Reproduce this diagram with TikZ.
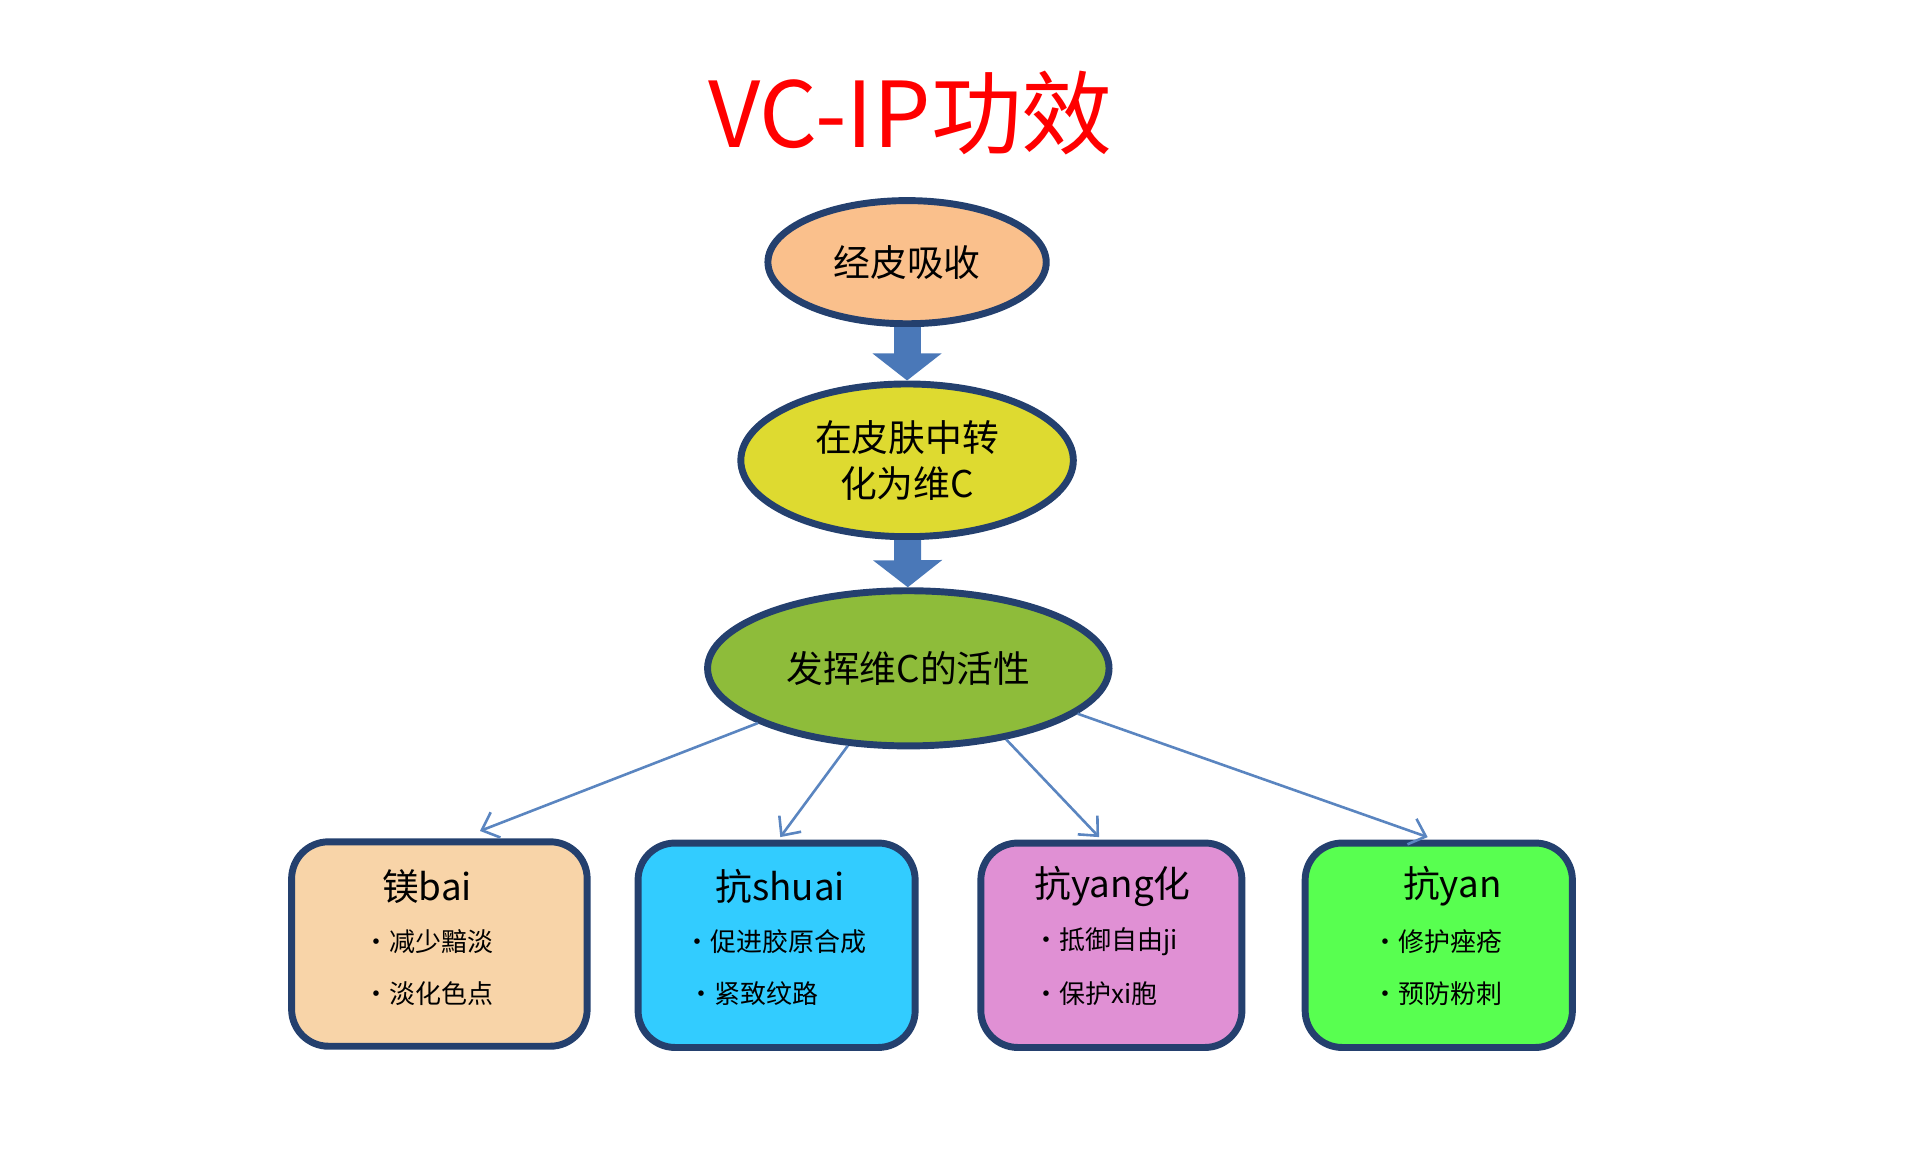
\documentclass[tikz,border=0pt]{standalone}
\usepackage{fontspec}
\setmainfont{Noto Sans CJK SC}
\usetikzlibrary{shapes.geometric,arrows.meta,calc}
\definecolor{edgeblue}{HTML}{24406E}
\definecolor{arrowblue}{HTML}{4A78B8}
\definecolor{lineblue}{HTML}{5A85C0}
\tikzstyle{stage} = [ellipse, draw=edgeblue, line width=1.6pt, inner sep=0pt, font=\fontsize{8.5}{10.5}\selectfont, align=center]
\tikzstyle{effect} = [draw=edgeblue, line width=1.6pt, rounded corners=0.3cm, minimum height=1.66cm]
\tikzstyle{fat} = [arrowblue, line width=0.22cm, -{Triangle[width=0.55cm,length=0.22cm]}]
\tikzstyle{thin} = [lineblue, line width=0.6pt, -{Straight Barb[length=1.2mm,width=2.2mm]}]
\tikzstyle{head} = [font=\fontsize{8.5}{10}\selectfont]
\tikzstyle{item} = [font=\fontsize{6}{7}\selectfont]

\begin{document}
\begin{tikzpicture}[x=0.01cm, y=-0.01cm]
    \useasboundingbox (0,0) rectangle (1560,938);
    \node [text=red, font=\fontsize{21}{25}\selectfont] (title) at (740,92) {VC-IP功效};

    \node [stage, fill={rgb,255:red,250;green,192;blue,140}, minimum width=2.26cm, minimum height=1.0cm] (absorb) at (737,213) {经皮吸收};
    \node [stage, fill={rgb,255:red,222;green,218;blue,48}, minimum width=2.7cm, minimum height=1.24cm] (convert) at (737,374) {在皮肤中转\\化为维C};
    \node [stage, fill={rgb,255:red,142;green,188;blue,58}, minimum width=3.26cm, minimum height=1.26cm] (active) at (738,543) {发挥维C的活性};

    \draw [fat] (absorb) -- (convert);
    \draw [fat] (convert) -- (active);

    % effect boxes
    \node [effect, fill={rgb,255:red,248;green,212;blue,168}, minimum width=2.4cm] (white) at (357,767) {};
    \node [effect, fill={rgb,255:red,50;green,204;blue,255}, minimum width=2.25cm] (aging) at (631,768) {};
    \node [effect, fill={rgb,255:red,224;green,144;blue,212}, minimum width=2.12cm] (oxid) at (903,768) {};
    \node [effect, fill={rgb,255:red,88;green,255;blue,80}, minimum width=2.17cm] (inflam) at (1169,768) {};

    \node [head] (whiteh) at (347,720) {镁bai};
    \node [item] (white1) at (348,765) {·减少黯淡};
    \node [item] (white2) at (348,807) {·淡化色点};
    \node [head] (agingh) at (634,720) {抗shuai};
    \node [item] (aging1) at (630,765) {·促进胶原合成};
    \node [item] (aging2) at (612,807) {·紧致纹路};
    \node [head] (oxidh) at (904,720) {抗yang化};
    \node [item] (oxid1) at (898,765) {·抵御自由ji};
    \node [item] (oxid2) at (890,807) {·保护xi胞};
    \node [head] (inflamh) at (1180,720) {抗yan};
    \node [item] (inflam1) at (1168,765) {·修护痤疮};
    \node [item] (inflam2) at (1168,807) {·预防粉刺};

    \draw [thin] (active.200) -- ($(white.north)+(33,-6)$);
    \draw [thin] (active.232) -- ($(aging.north)+(3,-2)$);
    \draw [thin] (active.324) -- ($(oxid.north)+(-10,-2)$);
    \draw [thin] (active.345) -- ($(inflam.north)+(-9,-2)$);
\end{tikzpicture}
\end{document}
